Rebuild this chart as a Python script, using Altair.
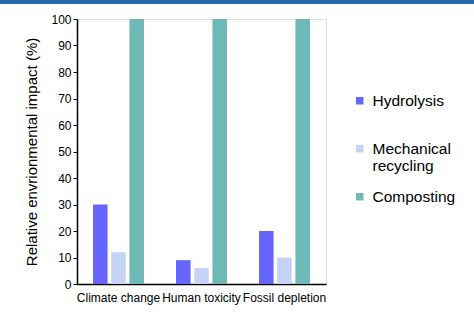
import altair as alt
import pandas as pd

categories = ["Climate change", "Human toxicity", "Fossil depletion"]
methods = ["Hydrolysis", "Mechanical recycling", "Composting"]
hydrolysis = [30, 9, 20]
mechanical = [12, 6, 10]
composting = [100, 100, 100]
colors = ["#6666FF", "#C5D3F6", "#6EB8B5"]

rows = []
for i, c in enumerate(categories):
    for m, vals in zip(methods, [hydrolysis, mechanical, composting]):
        rows.append({"category": c, "method": m, "value": vals[i]})
df = pd.DataFrame(rows)

FONT = "Liberation Sans"

bars = alt.Chart(df).mark_bar().encode(
    x=alt.X("category:N", sort=categories,
            scale=alt.Scale(paddingInner=0.386, paddingOuter=0.193),
            axis=alt.Axis(title=None, labelAngle=0, ticks=False, labelFontSize=12,
                          labelFont=FONT, labelColor="#000", domainColor="#000",
                          domainWidth=1.5, labelPadding=8)),
    xOffset=alt.XOffset("method:N", sort=methods,
                        scale=alt.Scale(paddingInner=0.2, paddingOuter=0)),
    y=alt.Y("value:Q", scale=alt.Scale(domain=[0, 100]),
            axis=alt.Axis(title="Relative envrionmental impact (%)", values=list(range(0, 101, 10)),
                          tickSize=4, labelFontSize=12, labelFont=FONT, labelColor="#000",
                          titleFont=FONT, titleFontSize=15, titleFontWeight="normal",
                          titleColor="#000", titlePadding=11, grid=False,
                          domainColor="#000", tickColor="#000", domainWidth=1.5)),
    color=alt.Color("method:N", sort=methods,
                    scale=alt.Scale(domain=methods, range=colors),
                    legend=alt.Legend(title=None, orient="none", legendX=275, legendY=74,
                                      symbolType="square", symbolSize=56, symbolStrokeWidth=0,
                                      labelFontSize=15.5, labelFont=FONT, labelColor="#000",
                                      labelOffset=5, gridAlign="all",
                                      rowPadding=14, labelLimit=200,
                                      labelExpr="datum.label == 'Mechanical recycling' ? ['Mechanical', 'recycling'] : datum.label")),
)

topbar = alt.Chart(pd.DataFrame({"a": [0]})).mark_rule(color="#2B66B1", strokeWidth=4).encode(
    x=alt.value(-77), x2=alt.value(397), y=alt.value(-17)
)

chart = alt.layer(bars, topbar).properties(
    width=249, height=265,
    autosize=alt.AutoSizeParams(type="none"),
    padding={"left": 77, "top": 19, "right": 148, "bottom": 42},
).configure_view(stroke=None).configure(background="white")

chart.save("out.html", embed_options={"renderer": "svg", "actions": False})
